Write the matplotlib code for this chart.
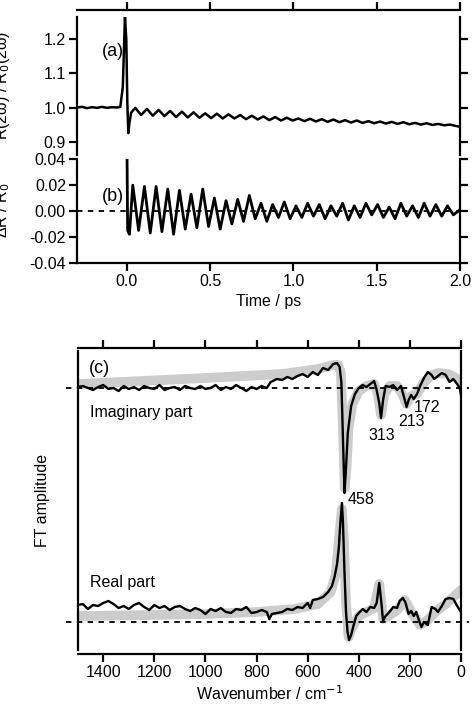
import matplotlib
matplotlib.use("Agg")
import matplotlib.pyplot as plt

plt.rcParams['font.family'] = ['Liberation Sans', 'DejaVu Sans']

# ---------- panel (a): R(2w)/R0(2w) vs time ----------
t_a = [-0.30,-0.27,-0.24,-0.21,-0.18,-0.15,-0.12,-0.09,-0.06,-0.04,-0.025,-0.012,-0.004,0.002,0.008,0.015,0.025,
       0.05,0.085,0.12,0.155,0.19,0.225,0.26,0.295,0.33,0.365,0.40,0.435,0.47,0.505,0.54,0.575,0.61,0.645,0.68,
       0.715,0.75,0.785,0.82,0.855,0.89,0.925,0.96,0.995,1.03,1.065,1.10,1.135,1.17,1.205,1.24,1.275,1.31,1.345,
       1.38,1.415,1.45,1.485,1.52,1.555,1.59,1.625,1.66,1.695,1.73,1.765,1.80,1.835,1.87,1.905,1.94,1.975,2.0]
r_a = [1.000,1.002,0.998,1.001,0.999,1.002,0.999,1.001,1.000,1.002,1.06,1.265,1.20,1.02,0.925,0.955,0.985,
       0.999,0.978,0.996,0.976,0.993,0.975,0.990,0.972,0.988,0.971,0.986,0.970,0.983,0.969,0.982,0.968,0.980,0.968,0.978,
       0.966,0.976,0.965,0.974,0.963,0.972,0.962,0.970,0.962,0.968,0.960,0.967,0.959,0.966,0.958,0.965,0.957,0.963,0.956,
       0.962,0.955,0.960,0.954,0.959,0.953,0.958,0.952,0.957,0.951,0.955,0.950,0.954,0.949,0.952,0.948,0.950,0.946,0.944]

# ---------- panel (b): oscillatory part ----------
t_b = [0.0,0.004,0.015,0.035,0.07,0.105,0.14,0.175,0.21,0.245,0.28,0.315,0.35,0.385,0.42,0.455,0.49,0.525,0.56,
       0.595,0.63,0.665,0.70,0.735,0.77,0.805,0.84,0.875,0.91,0.945,0.98,1.015,1.05,1.085,1.12,1.155,1.19,1.225,
       1.26,1.295,1.33,1.365,1.40,1.435,1.47,1.505,1.54,1.575,1.61,1.645,1.68,1.715,1.75,1.785,1.82,1.855,1.89,
       1.925,1.96,2.0]
d_b = [0.05,-0.015,-0.018,0.020,-0.015,0.019,-0.017,0.019,-0.016,0.017,-0.018,0.016,-0.014,0.013,-0.013,0.017,-0.012,0.010,-0.014,
       0.008,-0.010,0.009,-0.008,0.012,-0.006,0.006,-0.008,0.005,-0.005,0.007,-0.006,0.004,-0.005,0.006,-0.004,0.005,-0.006,0.004,
       -0.004,0.006,-0.007,0.004,-0.005,0.006,-0.003,0.005,-0.005,0.003,-0.006,0.006,-0.004,0.004,-0.005,0.006,-0.004,0.005,-0.004,
       0.004,-0.003,0.001]

# ---------- panel (c): FT spectra (wavenumber, amplitude) ----------
imag_pts = [(1500,0.1),(1480,0.2),(1460,0.0),(1440,-0.2),(1420,0.1),(1400,0.3),(1380,-0.1),(1360,0.0),(1340,-0.3),
            (1320,0.2),(1300,-0.1),(1280,0.1),(1260,-0.2),(1240,0.2),(1220,0.0),(1200,-0.1),(1180,0.3),(1160,-0.2),
            (1140,0.0),(1120,0.1),(1100,-0.2),(1080,0.2),(1060,0.0),(1040,-0.1),(1020,0.2),(1000,-0.1),(980,0.0),
            (960,0.3),(940,-0.2),(920,0.1),(900,-0.1),(880,0.3),(860,0.0),(840,-0.3),(820,0.1),(800,-0.1),(780,0.2),
            (760,0.0),(745,0.6),(720,0.9),(700,0.8),(680,1.1),(660,0.9),(640,1.2),(620,1.4),(600,1.1),(580,1.6),
            (560,1.3),(540,2.0),(520,1.8),(500,2.4),(485,2.5),(475,2.1),(468,0.5),(462,-5.0),(456,-10.5),(450,-8.0),
            (443,-4.5),(430,-1.8),(415,-0.6),(400,0.0),(385,0.3),(370,0.1),(355,0.4),(340,0.7),(330,-0.2),(320,-1.5),
            (313,-3.0),(305,-1.2),(295,0.2),(280,0.1),(265,0.3),(250,-0.2),(235,0.2),(222,-1.0),(213,-1.9),(205,-1.2),
            (195,-0.7),(185,-1.1),(172,-0.6),(160,0.2),(145,1.0),(130,1.6),(115,1.3),(105,0.9),(90,1.2),(75,1.5),
            (60,1.3),(45,0.6),(30,0.9),(15,0.4),(5,0.0),(0,-0.7)]
imag_fit = [(1500,0.4),(1000,1.0),(700,1.4),(560,1.9),(500,2.3),(480,2.3),(470,1.5),(462,-4.0),(455,-10.0),(448,-8.0),
            (440,-4.0),(425,-1.6),(400,-0.3),(370,0.2),(340,0.4),(325,-0.6),(313,-2.7),(300,-0.6),(280,0.2),(250,0.2),
            (230,-0.6),(213,-1.6),(195,-0.8),(172,-0.6),(150,0.4),(120,1.2),(90,1.5),(50,1.4),(20,1.0),(0,0.6)]
real_pts = [(1500,1.7),(1480,1.8),(1460,1.3),(1440,1.7),(1420,1.6),(1400,1.9),(1380,2.1),(1360,1.8),(1340,1.4),
            (1320,1.6),(1300,1.3),(1280,1.7),(1260,1.9),(1240,1.5),(1220,1.2),(1200,1.7),(1180,1.4),(1160,1.6),
            (1140,1.2),(1120,1.5),(1100,1.6),(1080,1.3),(1060,1.1),(1040,1.4),(1020,1.2),(1000,0.8),(980,1.3),
            (960,1.1),(940,1.4),(920,1.0),(900,0.9),(880,1.3),(860,1.2),(840,1.5),(820,0.9),(800,1.0),(780,1.2),
            (760,1.0),(750,0.3),(740,0.8),(720,0.9),(700,1.0),(680,1.3),(660,1.2),(640,1.5),(620,1.4),(600,1.9),
            (590,1.4),(580,2.2),(560,2.3),(540,2.5),(520,3.0),(505,3.6),(495,4.5),(485,5.8),(478,7.5),(472,10.0),
            (466,11.9),(462,10.0),(456,5.0),(450,1.0),(444,-1.0),(438,-1.8),(430,-1.3),(420,-0.3),(410,0.6),
            (400,0.9),(385,1.3),(370,1.0),(355,1.5),(340,1.4),(330,1.9),(320,3.9),(312,2.0),(305,0.1),(295,0.6),
            (280,1.0),(265,1.5),(250,1.4),(240,2.1),(228,2.4),(218,2.0),(205,0.8),(195,1.1),(185,0.6),(175,1.0),
            (165,0.2),(155,-0.5),(145,0.0),(130,-0.3),(115,1.5),(100,1.3),(90,1.0),(75,1.6),(60,2.3),(45,2.4),
            (30,2.3),(15,1.6),(0,1.0)]
real_fit = [(1500,0.6),(1200,0.7),(1000,0.8),(800,1.0),(650,1.3),(560,1.8),(510,3.0),(490,4.8),(475,9.0),(466,11.3),
            (458,8.0),(450,2.0),(440,-1.5),(425,-0.5),(400,0.6),(370,1.0),(340,1.4),(320,3.8),(305,0.3),(290,0.5),
            (250,1.2),(220,2.2),(190,0.8),(160,-0.3),(130,0.2),(100,1.0),(60,1.8),(30,2.5),(0,3.2)]

W, H = 474, 710
fig = plt.figure(figsize=(W/100, H/100), dpi=100)

def rect(x0, y0, x1, y1):
    return [x0/W, 1-y1/H, (x1-x0)/W, (y1-y0)/H]

FS = 11.5
lw_sp = 1.6
def style(ax):
    for s in ax.spines.values():
        s.set_linewidth(lw_sp)
    ax.tick_params(width=lw_sp, length=6, labelsize=FS, direction='out', pad=2)

# (a)
axa = fig.add_axes(rect(77, 17, 460, 155))
axa.plot(t_a, r_a, color='black', lw=1.8)
axa.set_xlim(-0.3, 2.0); axa.set_ylim(0.861, 1.265)
axa.set_yticks([0.9, 1.0, 1.1, 1.2])
style(axa)
axa.spines['bottom'].set_visible(False)
axa.spines['top'].set_position(('outward', 5))
axa.tick_params(axis='x', top=True, bottom=False, labeltop=False, labelbottom=False)
axa.tick_params(axis='y', right=True)
axa.set_xticks([0, 0.5, 1.0, 1.5, 2.0])
axa.text(0.065, 0.72, '(a)', transform=axa.transAxes, fontsize=13)

# (b)
axb = fig.add_axes(rect(77, 159.3, 460, 262.7))
axb.plot(t_b, d_b, color='black', lw=2.0)
axb.axhline(0, color='black', lw=1.3, ls=(0, (3, 3)))
axb.set_xlim(-0.3, 2.0); axb.set_ylim(-0.04, 0.04)
axb.set_yticks([-0.04, -0.02, 0.0, 0.02, 0.04])
axb.set_yticklabels(['-0.04', '-0.02', '0.00', '0.02', '0.04'])
axb.set_xticks([0, 0.5, 1.0, 1.5, 2.0])
axb.set_xticklabels(['0.0', '0.5', '1.0', '1.5', '2.0'])
style(axb)
axb.spines['top'].set_visible(False)
axb.tick_params(axis='y', right=True)
axb.set_xlabel('Time / ps', fontsize=FS, labelpad=4)
axb.text(0.065, 0.6, '(b)', transform=axb.transAxes, fontsize=13)

fig.text(3/W, 1-85/H, 'R(2ω) / R$_0$(2ω)', rotation=90, va='center', ha='center', fontsize=FS)
fig.text(3/W, 1-210/H, 'ΔR / R$_0$', rotation=90, va='center', ha='center', fontsize=FS)

# (c)
off = -23.4
axc = fig.add_axes(rect(77.7, 351, 461, 650))
def split(pts, o=0.0):
    return [p[0] for p in pts], [p[1] + o for p in pts]
g = dict(color='#cccccc', lw=7, solid_capstyle='round', solid_joinstyle='round')
axc.plot(*split(imag_fit), **g)
axc.plot(*split(real_fit, off), **g)
axc.plot(*split(imag_pts), color='black', lw=1.7)
axc.plot(*split(real_pts, off), color='black', lw=1.7)
axc.axhline(0, color='black', lw=1.3, ls=(0, (3, 3)), xmin=-0.03, xmax=1.02, clip_on=False)
axc.axhline(off, color='black', lw=1.3, ls=(0, (3, 3)), xmin=-0.03, xmax=1.02, clip_on=False)
axc.set_xlim(1500, 0); axc.set_ylim(-26.2, 3.7)
axc.set_xticks([1400, 1200, 1000, 800, 600, 400, 200, 0])
axc.set_yticks([])
style(axc)
axc.spines['top'].set_position(('outward', 2))
axc.spines['bottom'].set_position(('outward', 3))
axc.tick_params(axis='x', top=True)
axc.set_xlabel('Wavenumber / cm$^{-1}$', fontsize=FS, labelpad=3)
axc.set_ylabel('FT amplitude', fontsize=FS, labelpad=20)
axc.text(0.03, 0.94, '(c)', transform=axc.transAxes, fontsize=13, va='center')
axc.text(1450, -2.4, 'Imaginary part', fontsize=FS, va='center')
axc.text(1450, -19.4, 'Real part', fontsize=FS, va='center')
axc.text(443, -11.2, '458', fontsize=FS, va='center')
axc.text(363, -4.8, '313', fontsize=FS, va='center')
axc.text(245, -3.4, '213', fontsize=FS, va='center')
axc.text(185, -2.0, '172', fontsize=FS, va='center')

fig.savefig('out.png', dpi=100)
